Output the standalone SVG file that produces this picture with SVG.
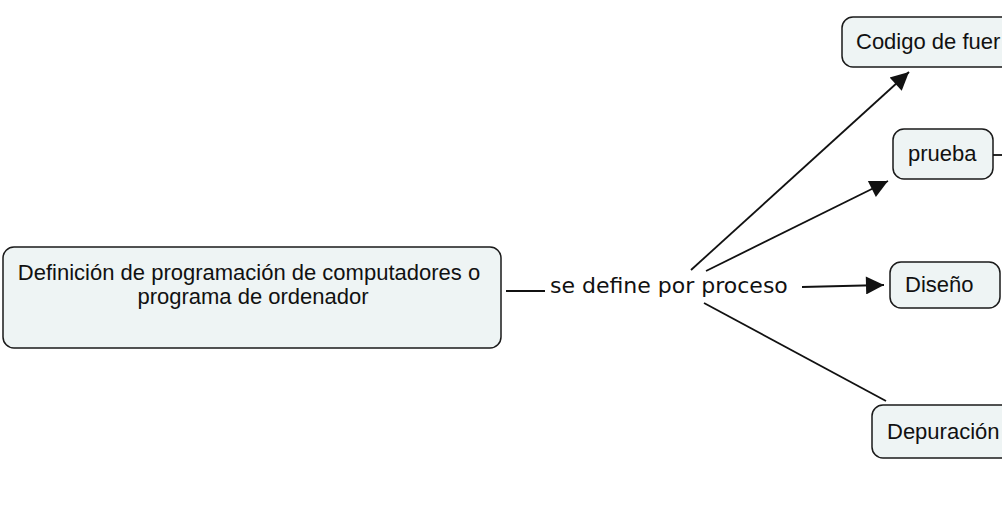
<svg xmlns="http://www.w3.org/2000/svg" width="1002" height="526" viewBox="0 0 1002 526">
<defs>
<style>
.node rect{fill:#eef4f4;stroke:#1a1a1a;stroke-width:1.5}
.node text{font-family:"Liberation Sans",Arial,sans-serif;font-size:22px;fill:#111}
.lbl{font-family:"DejaVu Sans",Verdana,sans-serif;font-size:22px;fill:#111}
.conn line{stroke:#111;stroke-width:1.8}
</style>
<marker id="ah" viewBox="0 0 10 10" refX="10" refY="5" markerWidth="24" markerHeight="18" markerUnits="userSpaceOnUse" orient="auto">
<path d="M0,0 L10,5 L0,10 z" fill="#111"/>
</marker>
</defs>
<rect width="1002" height="526" fill="#fff"/>
<g id="n-def" class="node">
<rect x="3" y="247" width="498" height="101" rx="11"/>
<text x="249" y="280" text-anchor="middle">Definición de programación de computadores o</text>
<text x="253" y="304" text-anchor="middle">programa de ordenador</text>
</g>
<g id="n-codigo" class="node">
<rect x="842" y="17" width="200" height="50" rx="11"/>
<text x="856" y="49">Codigo de fuer</text>
</g>
<g id="n-prueba" class="node">
<rect x="893" y="129" width="100" height="50" rx="11"/>
<text x="908" y="161">prueba</text>
</g>
<g id="n-diseno" class="node">
<rect x="890" y="262" width="110" height="46" rx="11"/>
<text x="905" y="292">Diseño</text>
</g>
<g id="n-depuracion" class="node">
<rect x="872" y="405" width="170" height="53" rx="11"/>
<text x="887" y="439">Depuración</text>
</g>
<g id="connectors" class="conn">
<line x1="506" y1="291" x2="545" y2="291"/>
<line x1="691" y1="270" x2="909" y2="72" marker-end="url(#ah)"/>
<line x1="706" y1="271" x2="888" y2="181" marker-end="url(#ah)"/>
<line x1="802" y1="287" x2="884" y2="285" marker-end="url(#ah)"/>
<line x1="704" y1="303" x2="886" y2="401"/>
<line x1="993" y1="155" x2="1002" y2="155"/>
<text class="lbl" x="550" y="293">se define por proceso</text>
</g>
</svg>
